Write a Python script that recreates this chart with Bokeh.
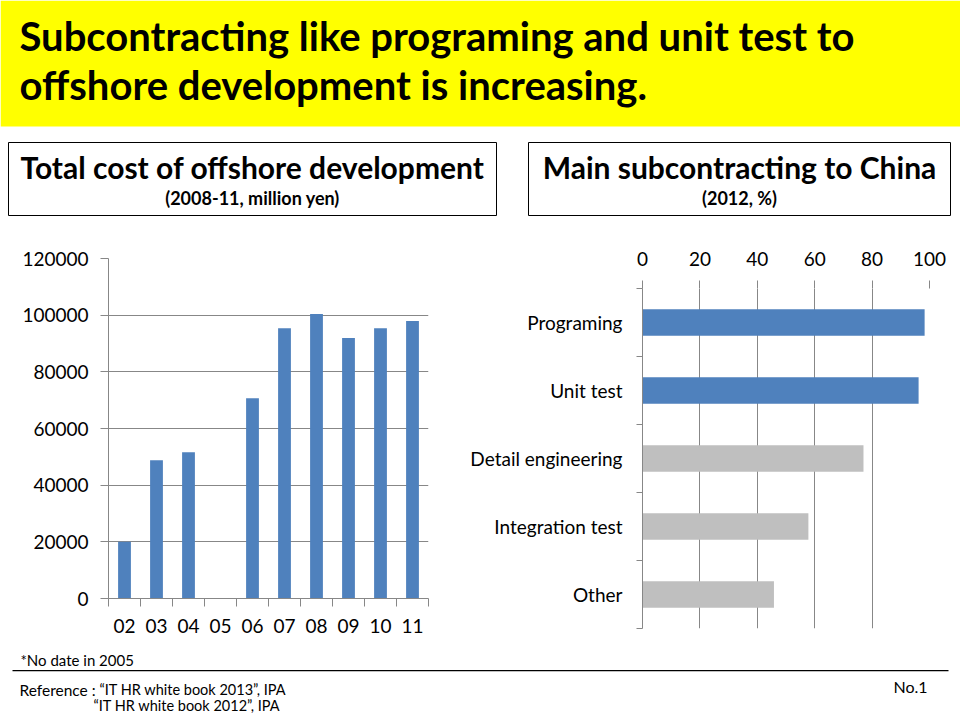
from bokeh.plotting import figure
from bokeh.layouts import column, row
from bokeh.models import (Range1d, FixedTicker, CustomJSTickFormatter, BasicTickFormatter,
                          BoxAnnotation, Label, ColumnDataSource)
from bokeh.embed import file_html
from bokeh.resources import INLINE

# ---------------- data ----------------
years = ["02", "03", "04", "05", "06", "07", "08", "09", "10", "11"]
cost = [20000, 48800, 51600, None, 70700, 95400, 100400, 91900, 95400, 97900]  # 2005: no data
cost_ticks = [0, 20000, 40000, 60000, 80000, 100000, 120000]

tasks = ["Programing", "Unit test", "Detail engineering", "Integration test", "Other"]
share = [98.3, 96.2, 77.0, 57.8, 45.8]
highlighted = ["Programing", "Unit test"]
share_ticks = [0, 20, 40, 60, 80, 100]

title_lines = ["Subcontracting like programing and unit test to",
               "offshore development is increasing."]
left_title = "Total cost of offshore development"
left_sub = "(2008-11, million yen)"
right_title = "Main subcontracting to China"
right_sub = "(2012, %)"
note = "*No date in 2005"
ref_head = "Reference :"
refs = ["\u201cIT HR white book 2013\u201d, IPA",
        "\u201cIT HR white book  2012\u201d, IPA"]
page_no = "No.1"

# ---------------- style ----------------
FONT = "Lato"
BLUE = "#4F81BD"
GREY_BAR = "#BFBFBF"
GRID = "#878787"
YELLOW = "#FFFF00"
TICK_FS = "19px"


def canvas(w, h, y0, y1):
    f = figure(width=w, height=h, x_range=Range1d(0, w), y_range=Range1d(y1, y0),
               x_axis_type=None, y_axis_type=None, output_backend="svg",
               toolbar_location=None, min_border=0)
    f.outline_line_color = None
    f.grid.visible = False
    return f


def text(fig, x, y, t, size, bold=False, align="left"):
    fig.add_layout(Label(x=x, y=y, text=t, text_font=FONT, text_font_size=size,
                         text_font_style="bold" if bold else "normal", text_color="black",
                         text_align=align, text_baseline="middle"))


# ---------------- header ----------------
top = canvas(960, 240, 0, 240)
top.add_layout(BoxAnnotation(left=0, right=960, top=0, bottom=126,
                             fill_color=YELLOW, fill_alpha=1, line_color=None))
for i, t in enumerate(title_lines):
    text(top, 19, 35 + 49 * i, t, "40px", bold=True)

for (l, r), t, s in [((8, 496), left_title, left_sub), ((528, 950), right_title, right_sub)]:
    top.add_layout(BoxAnnotation(left=l, right=r, top=142, bottom=215, fill_alpha=0,
                                 line_color="black", line_alpha=1, line_width=1))
    cx = (l + r) / 2
    text(top, cx, 166, t, "30px", bold=True, align="center")
    text(top, cx, 197, s, "18px", bold=True, align="center")

# ---------------- left chart ----------------
centers_x = [i + 0.5 for i in range(len(years))]
bounds_x = list(range(len(years) + 1))
src1 = ColumnDataSource(dict(x=centers_x, top=[float("nan") if v is None else v for v in cost]))

p1 = figure(width=440, height=405, x_range=Range1d(0, len(years)), y_range=Range1d(0, cost_ticks[-1]),
            output_backend="svg", toolbar_location=None, frame_align=False,
            min_border_left=108, min_border_right=12, min_border_top=18, min_border_bottom=47)
p1.outline_line_color = None
p1.vbar(x="x", top="top", width=0.4, source=src1, fill_color=BLUE, line_color=None)

p1.yaxis.ticker = FixedTicker(ticks=cost_ticks, minor_ticks=[])
p1.yaxis.formatter = BasicTickFormatter(use_scientific=False)
p1.xaxis.ticker = FixedTicker(ticks=centers_x, minor_ticks=bounds_x)
p1.xaxis.formatter = CustomJSTickFormatter(args=dict(labels=years),
                                           code="return labels[Math.floor(tick)] || '';")
for ax in (p1.xaxis, p1.yaxis):
    ax.axis_line_color = GRID
    ax.major_tick_line_color = GRID
    ax.minor_tick_line_color = GRID
    ax.major_tick_in = 0
    ax.minor_tick_in = 0
    ax.major_label_text_font = FONT
    ax.major_label_text_font_size = TICK_FS
    ax.major_label_text_color = "black"
p1.yaxis.major_tick_out = 8
p1.yaxis.minor_tick_out = 0
p1.yaxis.major_label_standoff = 12
p1.xaxis.major_tick_out = 0
p1.xaxis.minor_tick_out = 8
p1.xaxis.major_label_standoff = 12
p1.xgrid.visible = False
p1.ygrid.grid_line_color = GRID

# ---------------- right chart ----------------
centers_y = [i + 0.5 for i in range(len(tasks))]
bounds_y = list(range(len(tasks) + 1))
colors = [BLUE if t in highlighted else GREY_BAR for t in tasks]
src2 = ColumnDataSource(dict(y=centers_y, right=share, color=colors))

p2 = figure(width=520, height=405, x_range=Range1d(0, share_ticks[-1]), y_range=Range1d(len(tasks), 0),
            x_axis_location="above", output_backend="svg", toolbar_location=None, frame_align=False,
            min_border_left=202, min_border_right=31, min_border_top=48, min_border_bottom=17)
p2.outline_line_color = None
p2.hbar(y="y", left=0, right="right", height=0.39, source=src2, fill_color="color", line_color=None)

p2.xaxis.ticker = FixedTicker(ticks=share_ticks, minor_ticks=[])
p2.yaxis.ticker = FixedTicker(ticks=centers_y, minor_ticks=bounds_y)
p2.yaxis.formatter = CustomJSTickFormatter(args=dict(labels=tasks),
                                           code="return labels[Math.floor(tick)] || '';")
for ax in (p2.xaxis, p2.yaxis):
    ax.axis_line_color = GRID
    ax.major_tick_line_color = GRID
    ax.minor_tick_line_color = GRID
    ax.major_tick_in = 0
    ax.minor_tick_in = 0
    ax.major_label_text_font = FONT
    ax.major_label_text_font_size = TICK_FS
    ax.major_label_text_color = "black"
p2.xaxis.axis_line_color = None
p2.xaxis.major_tick_out = 8
p2.xaxis.minor_tick_out = 0
p2.xaxis.major_label_standoff = 15
p2.yaxis.major_tick_out = 0
p2.yaxis.minor_tick_out = 6
p2.yaxis.major_label_standoff = 14
p2.ygrid.visible = False
p2.xgrid.grid_line_color = GRID

# ---------------- footer ----------------
bot = canvas(960, 75, 645, 720)
text(bot, 20, 659, note, "15px")
bot.add_layout(BoxAnnotation(left=12, right=948, top=669.5, bottom=670.8,
                             fill_color="black", fill_alpha=1, line_color=None))
text(bot, 19, 689, ref_head, "15.5px")
text(bot, 99, 689, refs[0], "14.5px")
text(bot, 93, 705, refs[1], "14.5px")
text(bot, 893, 686, page_no, "16px")

layout = column(top, row(p1, p2), bot)

with open("out.html", "w") as fh:
    fh.write(file_html(layout, INLINE))
